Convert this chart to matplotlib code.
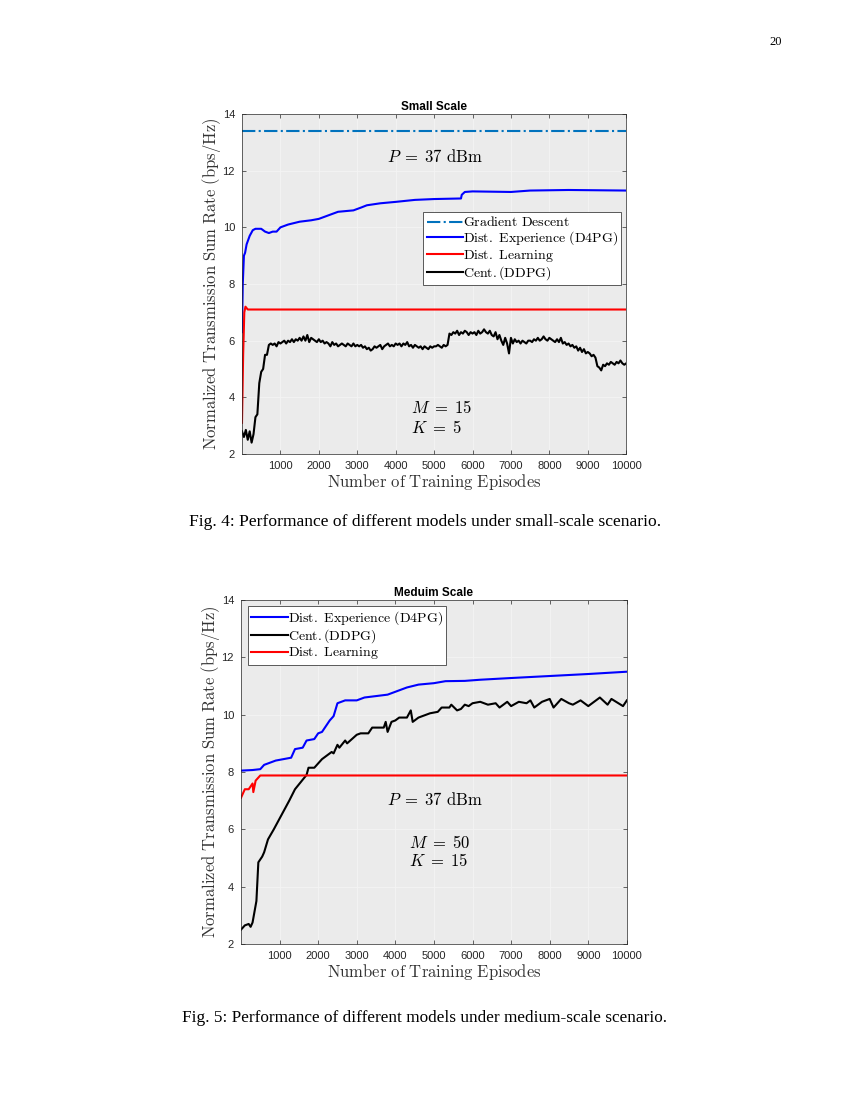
import numpy as np
import matplotlib.pyplot as plt

plt.rcParams['mathtext.fontset'] = 'cm'
plt.rcParams['font.family'] = ['Liberation Sans', 'DejaVu Sans']

# ---------------- small scale (Fig. 4) ----------------
gd_small = 13.4

d4pg_small_x = [0, 20, 50, 80, 120, 200, 280, 350, 500, 600, 700, 800, 900, 1000, 1200,
                1500, 1800, 2000, 2200, 2500, 2900, 3100, 3250, 3600, 4000, 4500, 5000,
                5700, 5720, 5800, 6000, 7000, 7500, 8500, 10000]
d4pg_small_y = [6.3, 8.0, 9.0, 9.1, 9.4, 9.7, 9.9, 9.95, 9.95, 9.85, 9.8, 9.85, 9.85, 10.0, 10.1,
                10.2, 10.25, 10.3, 10.4, 10.55, 10.6, 10.7, 10.78, 10.85, 10.9, 10.97, 11.0,
                11.02, 11.15, 11.25, 11.27, 11.25, 11.3, 11.32, 11.3]

dl_small_x = [0, 30, 60, 90, 150, 10000]
dl_small_y = [3.1, 5.5, 7.0, 7.2, 7.1, 7.1]

ddpg_small_x = np.arange(0, 10001, 50)
ddpg_small_y = [
    2.8, 2.6, 2.85, 2.5, 2.8, 2.4, 2.7, 3.3, 3.4, 4.5, 4.9, 5.0, 5.5, 5.5, 5.85, 5.9, 5.85, 5.9, 5.8, 5.95, 5.9,
    5.95, 6.0, 5.9, 6.0, 5.95, 6.05, 5.95, 6.05, 6.0, 6.1, 6.0, 6.15, 6.0, 6.2, 5.95, 6.1, 6.05, 6.0, 5.95, 6.05,
    5.95, 6.0, 5.9, 5.95, 5.9, 5.8, 5.95, 5.85, 5.9, 5.8, 5.85, 5.9, 5.85, 5.8, 5.9, 5.85, 5.8, 5.9, 5.8, 5.85,
    5.8, 5.85, 5.75, 5.8, 5.7, 5.75, 5.65, 5.7, 5.8, 5.75, 5.8, 5.85, 5.7, 5.8, 5.85, 5.9, 5.8, 5.85, 5.8, 5.9,
    5.85, 5.9, 5.8, 5.9, 5.85, 5.95, 5.8, 5.85, 5.75, 5.85, 5.8, 5.75, 5.8, 5.7, 5.8, 5.75, 5.7, 5.8, 5.75, 5.8,
    5.8, 5.85, 5.8, 5.75, 5.85, 5.8, 5.85, 6.25, 6.2, 6.3, 6.25, 6.35, 6.2, 6.3, 6.25, 6.35, 6.3, 6.2, 6.3, 6.25,
    6.3, 6.2, 6.35, 6.25, 6.3, 6.4, 6.3, 6.25, 6.35, 6.2, 6.15, 6.3, 6.05, 6.2, 6.0, 5.85, 6.1, 5.9, 5.55, 6.1,
    5.9, 6.05, 5.95, 6.0, 5.9, 6.0, 5.95, 5.9, 6.0, 6.0, 5.95, 6.05, 6.0, 6.1, 6.0, 6.05, 6.15, 6.05, 6.0, 6.1,
    6.05, 6.0, 5.95, 6.05, 5.95, 6.1, 5.9, 5.95, 5.85, 5.9, 5.8, 5.85, 5.75, 5.8, 5.65, 5.75, 5.6, 5.7, 5.55, 5.6,
    5.55, 5.45, 5.5, 5.4, 5.1, 5.05, 4.95, 5.15, 5.1, 5.2, 5.15, 5.25, 5.2, 5.15, 5.25, 5.2, 5.3, 5.2, 5.15, 5.2,
]

# ---------------- medium scale (Fig. 5) ----------------
d4pg_med_x = [0, 300, 500, 600, 700, 900, 1100, 1300, 1400, 1600, 1700, 1900, 2000, 2100, 2300,
              2400, 2500, 2700, 3000, 3200, 3500, 3800, 4000, 4300, 4600, 5000, 5300, 5800,
              6200, 7000, 8000, 9000, 10000]
d4pg_med_y = [8.05, 8.07, 8.1, 8.25, 8.3, 8.4, 8.45, 8.5, 8.8, 8.85, 9.1, 9.15, 9.35, 9.4, 9.8,
              9.95, 10.4, 10.5, 10.5, 10.6, 10.65, 10.7, 10.8, 10.95, 11.05, 11.1, 11.17, 11.18,
              11.22, 11.28, 11.35, 11.42, 11.5]

ddpg_med_x = [0, 100, 200, 250, 300, 400, 450, 550, 600, 700, 850, 1050, 1250, 1400, 1550, 1700,
              1750, 1900, 2100, 2350, 2400, 2500, 2550, 2700, 2750, 3000, 3100, 3300, 3400, 3700,
              3750, 3800, 3900, 4000, 4100, 4300, 4400, 4450, 4600, 4900, 5100, 5200, 5400, 5450,
              5600, 5700, 5800, 5900, 6000, 6200, 6400, 6600, 6700, 6900, 7000, 7200, 7400, 7500,
              7600, 7800, 8000, 8100, 8300, 8500, 8600, 8800, 9000, 9300, 9500, 9600, 9900, 10000]
ddpg_med_y = [2.5, 2.65, 2.7, 2.6, 2.75, 3.5, 4.85, 5.05, 5.2, 5.65, 6.0, 6.5, 7.0, 7.4, 7.65, 7.9,
              8.15, 8.15, 8.45, 8.7, 8.65, 8.95, 8.85, 9.1, 9.0, 9.3, 9.35, 9.35, 9.55, 9.55,
              9.75, 9.4, 9.75, 9.8, 9.9, 9.9, 10.15, 9.75, 9.9, 10.05, 10.1, 10.25, 10.25, 10.35,
              10.15, 10.2, 10.35, 10.3, 10.4, 10.45, 10.35, 10.4, 10.25, 10.45, 10.3, 10.45, 10.4, 10.5,
              10.25, 10.45, 10.55, 10.25, 10.55, 10.4, 10.35, 10.5, 10.3, 10.6, 10.35, 10.55, 10.3, 10.5]

dl_med_x = [0, 100, 200, 300, 320, 380, 480, 500, 10000]
dl_med_y = [7.1, 7.4, 7.4, 7.6, 7.3, 7.7, 7.85, 7.88, 7.88]

xticks = [1000, 2000, 3000, 4000, 5000, 6000, 7000, 8000, 9000, 10000]
yticks = [2, 4, 6, 8, 10, 12, 14]


def m(s):
    s = s.replace('.', '{.}').replace(' ', r'\ ')
    return r'$\mathrm{' + s + '}$'


def style_axes(ax, title):
    ax.set_facecolor('#ebebeb')
    ax.set_xlim(0, 10000)
    ax.set_ylim(2, 14)
    ax.set_xticks(xticks)
    ax.set_yticks(yticks)
    ax.grid(True, color='#f4f4f4', lw=0.6)
    ax.set_axisbelow(True)
    ax.tick_params(direction='in', top=True, right=True, labelsize=8,
                   colors='#262626', length=3, width=0.5, pad=5)
    for s in ax.spines.values():
        s.set_color('#262626')
        s.set_linewidth(0.5)
    ax.set_title(title, fontsize=8.5, fontweight='bold', pad=3)
    ax.set_xlabel(m('Number of Training Episodes'), fontsize=12, color='#333333', labelpad=1)
    ax.set_ylabel(m('Normalized Transmission Sum Rate (bps/Hz)'), fontsize=12,
                  color='#333333', labelpad=0)


fig = plt.figure(figsize=(8.5, 11), dpi=100)

ax1 = fig.add_axes([0.2847, 0.5873, 0.452, 0.309])
ax1.axhline(gd_small, color='#0072BD', lw=1.5, ls='-.', label=m('Gradient Descent'))
ax1.plot(d4pg_small_x, d4pg_small_y, color='#0000ff', lw=1.5, label=m('Dist. Experience (D4PG)'))
ax1.plot(dl_small_x, dl_small_y, color='#ff0000', lw=1.5, label=m('Dist. Learning'))
ax1.plot(ddpg_small_x, ddpg_small_y, color='black', lw=1.5, label=m('Cent.(DDPG)'))
style_axes(ax1, 'Small Scale')
leg = ax1.legend(loc='upper right', bbox_to_anchor=(0.987, 0.712), fontsize=10,
                 fancybox=False, framealpha=1, edgecolor='#404040',
                 handlelength=2.6, handletextpad=0, labelspacing=0.02, borderpad=0.25,
                 borderaxespad=0)
leg.get_frame().set_linewidth(0.6)
ax1.text(0.503, 0.874, r'$P\;=\;37\ \mathrm{dBm}$', transform=ax1.transAxes,
         ha='center', va='center', fontsize=12)
ax1.text(0.44, 0.138, r'$M\;=\;15$', transform=ax1.transAxes, ha='left', va='center', fontsize=12)
ax1.text(0.44, 0.079, r'$K\;=\;5$', transform=ax1.transAxes, ha='left', va='center', fontsize=12)

ax2 = fig.add_axes([0.2835, 0.1418, 0.454, 0.3127])
ax2.plot(d4pg_med_x, d4pg_med_y, color='#0000ff', lw=1.5, label=m('Dist. Experience (D4PG)'))
ax2.plot(ddpg_med_x, ddpg_med_y, color='black', lw=1.5, label=m('Cent.(DDPG)'))
ax2.plot(dl_med_x, dl_med_y, color='#ff0000', lw=1.5, label=m('Dist. Learning'))
style_axes(ax2, 'Meduim Scale')
leg2 = ax2.legend(loc='upper left', bbox_to_anchor=(0.018, 0.983), fontsize=10,
                  fancybox=False, framealpha=1, edgecolor='#404040',
                  handlelength=2.6, handletextpad=0, labelspacing=0.02, borderpad=0.25,
                  borderaxespad=0)
leg2.get_frame().set_linewidth(0.6)
ax2.text(0.503, 0.419, r'$P\;=\;37\ \mathrm{dBm}$', transform=ax2.transAxes,
         ha='center', va='center', fontsize=12)
ax2.text(0.435, 0.294, r'$M\;=\;50$', transform=ax2.transAxes, ha='left', va='center', fontsize=12)
ax2.text(0.435, 0.244, r'$K\;=\;15$', transform=ax2.transAxes, ha='left', va='center', fontsize=12)

fig.text(0.5, 1 - 522 / 1100, 'Fig. 4: Performance of different models under small-scale scenario.',
         ha='center', va='center', fontsize=12.6, family='Liberation Serif')
fig.text(0.5, 1 - 1018 / 1100, 'Fig. 5: Performance of different models under medium-scale scenario.',
         ha='center', va='center', fontsize=12.4, family='Liberation Serif')
fig.text(776 / 850, 1 - 42 / 1100, '20', ha='center', va='center', fontsize=9,
         family='Liberation Serif')

fig.savefig('out.png', dpi=100)
